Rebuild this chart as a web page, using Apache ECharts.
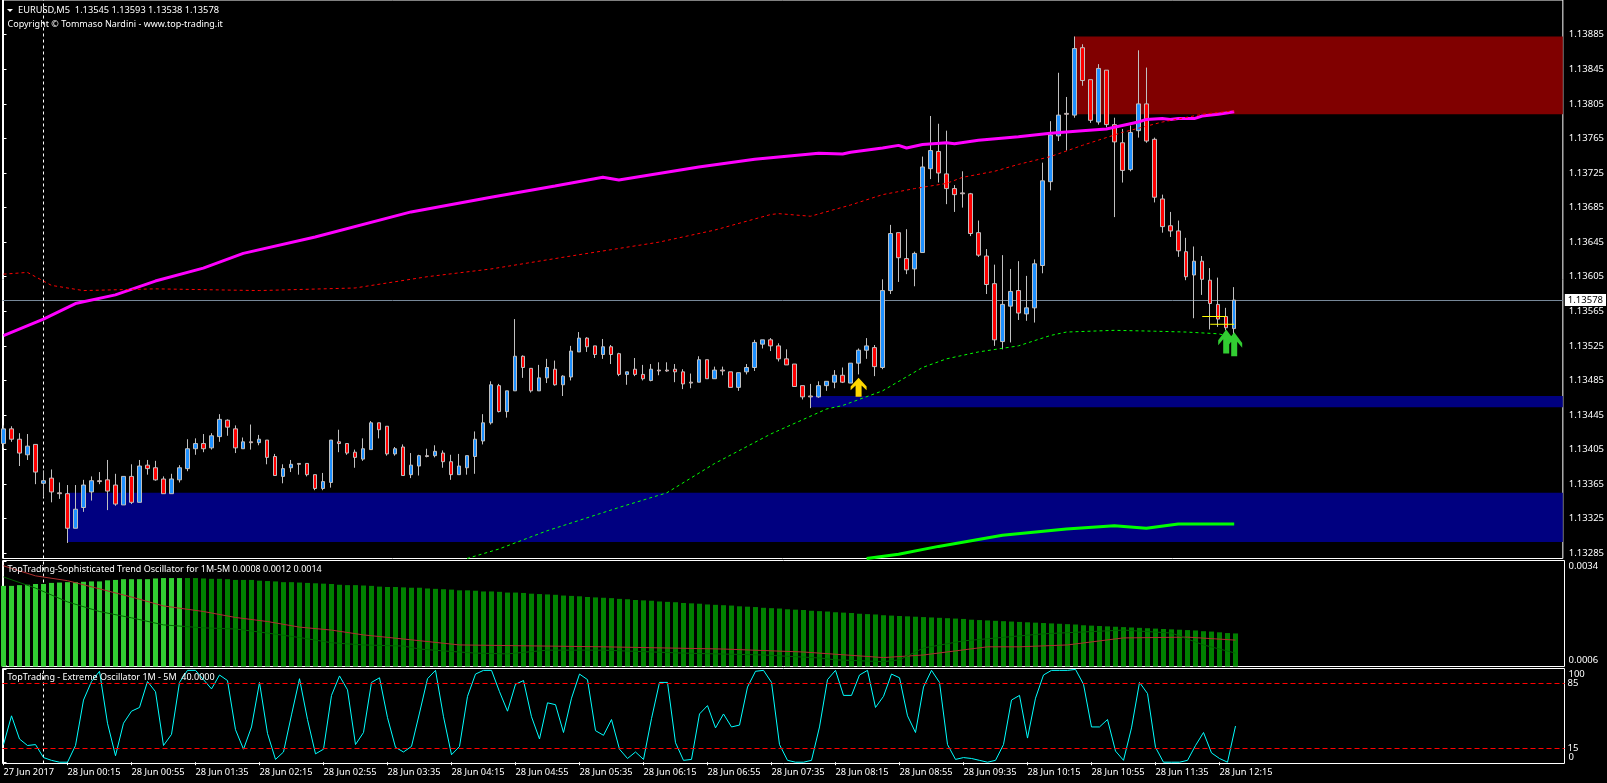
<!DOCTYPE html>
<html><head><meta charset="utf-8">
<style>html,body{margin:0;padding:0;background:#000}#c{width:1607px;height:783px}</style>
<script src="https://cdn.jsdelivr.net/npm/echarts@6/dist/echarts.min.js"></script>
</head><body><div id="c"></div>
<script>
// Prices are stored as points above 1.13000
const opens=[412,429,417,399,411,366,372,355,354,314,
338,356,369,370,364,341,374,344,387,384,
371,354,370,383,406,412,407,420,439,429,
406,414,413,416,397,374,384,389,389,376,
360,367,414,412,402,394,405,436,432,400,
408,376,386,398,398,401,391,376,384,397,
415,436,479,449,473,513,499,473,488,498,
480,489,518,534,525,515,524,516,492,498,
492,485,497,497,498,495,483,483,509,487,
497,495,477,495,500,527,532,525,510,504,
479,467,466,479,483,491,482,505,520,523,
500,589,656,626,614,633,730,750,724,707,
702,701,656,629,597,530,571,589,562,569,
618,715,768,794,792,870,833,784,844,781,
760,729,774,805,764,695,664,658,634,607,
623,601,573,559,545];
const closes=[429,417,401,409,379,369,356,354,314,336,
364,369,368,357,342,374,344,386,383,370,
354,371,384,406,412,406,421,440,431,407,
414,413,417,396,375,383,388,388,376,360,
368,416,412,401,396,406,436,428,400,406,
375,387,398,397,403,391,376,386,398,417,
436,480,449,473,513,500,473,488,500,480,
490,519,534,524,515,524,515,492,495,492,
487,498,496,496,495,481,482,509,487,497,
496,477,494,500,529,532,525,510,503,478,
466,466,479,484,491,483,505,520,525,501,
589,655,627,613,632,732,751,725,707,700,
701,655,630,596,532,573,588,563,569,620,
716,769,792,793,869,832,786,846,781,761,
728,772,805,762,697,663,658,635,605,623,
602,574,556,546,578];
const highs=[433,432,424,423,411,381,382,367,364,364,
370,374,379,393,377,374,388,393,393,392,
374,377,387,417,418,423,424,446,440,433,
419,434,422,416,400,388,393,389,389,376,
378,416,428,412,405,418,438,436,432,408,
411,401,399,406,410,404,399,400,398,426,
446,484,481,473,556,514,499,503,510,508,
491,525,541,535,525,533,526,517,495,511,
503,504,506,506,504,498,493,513,509,501,
501,495,494,504,532,532,534,528,521,504,
479,481,484,484,497,500,505,522,534,526,
602,665,656,660,634,744,791,782,774,711,
727,702,670,637,619,630,614,623,606,625,
737,785,841,813,883,874,833,851,844,789,
776,780,867,847,766,700,680,670,650,640,
629,615,604,569,593];
const lows=[407,414,386,393,365,350,344,348,297,314,
333,346,365,335,340,341,342,344,376,369,
354,354,367,380,399,402,405,414,421,401,
406,405,410,388,375,366,379,376,374,358,
358,361,402,399,384,392,405,418,398,398,
375,372,375,396,396,384,370,376,376,377,
411,434,448,442,473,488,471,473,482,479,
467,485,518,518,511,510,504,490,480,490,
485,484,491,495,483,475,476,483,487,487,
491,477,473,492,496,522,519,507,503,478,
463,453,465,473,476,482,482,492,510,490,
498,585,599,608,594,633,718,714,689,680,
685,652,628,585,525,521,529,555,554,552,
609,705,762,751,789,826,783,781,778,674,
714,727,766,760,691,656,651,628,601,557,
584,544,547,543,538];
// Moving averages, read at bar index: [bar, points]
const magentaMA=[[0,537],[5,556],[9,574],[14,584],[19,600],[25,615],[30,632],[39,651],[51,680],[61,697],[69,710],[75,720],[77,717],[87,732],[94,741],[102,748],[105,747],[106,749],[110,754],[112,757],[113,754],[115,758],[118,760],[119,759],[122,763],[127,767],[131,771],[135,774],[138,776],[140,780],[142,784],[143,787],[145,788],[146,787],[147,788],[149,788],[150,791],[152,793],[154,796]];
const redMA=[[0,608],[3,610],[6,595],[10,589],[19,591],[32,589],[44,592],[53,605],[61,614],[71,629],[82,645],[89,659],[96,677],[97,678],[101,675],[106,688],[110,700],[114,707],[118,713],[120,720],[124,727],[127,735],[131,744],[135,757],[140,772],[145,784],[150,793],[154,797]];
const greenMA=[[58,279],[62,290],[68,311],[77,338],[83,355],[89,389],[96,423],[103,452],[105,456],[110,473],[115,500],[118,510],[122,518],[127,525],[131,537],[133,541],[139,543],[144,542],[148,541],[152,539],[154,535]];
const limeMA=[[108,279],[112,284],[117,293],[125,306],[133,313],[139,317],[143,314],[147,319],[154,319]];
// Supply and demand zones: first bar, low, high (points)
const supplyZone=[134,793,883];
const demandUpper=[101,454,467];
const demandLower=[8,298,355];
const lastBarEnd=195.125;
const buyArrow=[[107,477]];
const greenArrows=[[153,530],[154,527]];
const yellowLevels=[[150,153,559],[151,154,550]];
const lastPrice=1.13578;
const separatorBar=5;
// Sophisticated Trend Oscillator, units of 0.00001
const trendBars=[273,273,275,276,278,278,281,282,283,283,284,285,285,288,289,291,291,291,291,293,294,294,294,294,294,293,292,292,291,289,289,289,287,286,285,283,283,282,281,280,279,278,276,275,275,274,273,271,270,270,
269,268,268,266,265,264,263,261,261,260,258,258,257,255,255,
254,252,251,250,249,247,246,245,243,242,241,240,238,237,235,234,233,231,230,229,227,226,225,223,222,
221,220,218,217,216,214,213,212,210,209,208,206,205,204,202,201,200,198,197,196,194,193,192,191,190,189,
188,187,186,185,184,182,181,180,179,178,177,176,175,174,173,172,171,170,169,167,166,165,164,163,162,161,
160,159,158,157,156,155,154,153,151,150,148,146,145];
const lastLightBar=22;
const trendRed=[[0,327],[4,300],[8,287],[12,265],[16,243],[20,219],[25,204],[29,188],[33,177],[37,162],[41,154],[45,141],[50,130],[57,114],[75,109],[90,103],[100,95],[110,80],[115,87],[119,98],[123,109],[127,109],[133,114],[140,133],[148,135],[154,127]];
const trendGreen=[[0,297],[4,267],[8,230],[12,204],[16,187],[20,168],[25,160],[29,157],[33,146],[37,134],[41,120],[45,114],[50,111],[52,103],[55,98],[59,92],[63,90],[68,100],[75,100],[85,92],[95,87],[102,79],[104,74],[110,69],[112,74],[115,106],[120,125],[130,144],[140,154],[146,146],[150,114],[154,92]];
// Extreme Oscillator
const extreme=[19,50,25,18,19,5,2,0,0,18,
67,87,98,42,7,42,55,59,87,76,
18,30,86,99,99,89,79,94,88,35,
14,38,86,31,3,11,51,90,46,9,
14,72,93,78,19,32,86,91,48,16,
11,17,53,90,99,49,8,17,71,95,
99,99,76,55,84,88,49,25,64,62,
32,69,95,89,34,29,46,14,4,11,
3,47,86,86,21,2,3,52,61,37,
52,38,40,81,98,99,86,19,2,0,
0,2,38,89,99,72,72,94,99,59,
71,95,91,50,32,81,99,86,19,3,
5,4,2,0,2,19,67,72,26,69,
94,99,99,99,100,84,38,38,46,12,
2,37,86,74,16,0,0,0,2,18,
32,10,4,0,39];
const extremeLevels=[85,15];
const priceTicks=[1.13285,1.13325,1.13365,1.13405,1.13445,1.13485,1.13525,1.13565,1.13605,1.13645,1.13685,1.13725,1.13765,1.13805,1.13845,1.13885];
const trendTicks=[0.0006,0.0034];
const extremeTicks=[0,100];
const timeLabels=['27 Jun 2017','28 Jun 00:15','28 Jun 00:55','28 Jun 01:35','28 Jun 02:15','28 Jun 02:55','28 Jun 03:35','28 Jun 04:15','28 Jun 04:55','28 Jun 05:35','28 Jun 06:15','28 Jun 06:55','28 Jun 07:35','28 Jun 08:15','28 Jun 08:55','28 Jun 09:35','28 Jun 10:15','28 Jun 10:55','28 Jun 11:35','28 Jun 12:15'];
const barsPerLabel=8;

const FONT='"Noto Sans"', FS=9.5, TFS=9;
const P=p=>1.13+p/1e5, T=v=>v/1e5;
const priceSeries=a=>a.map(d=>[d[0],P(d[1])]);
const trendSeries=a=>a.map(d=>[d[0],T(d[1])]);
const candles=opens.map((o,i)=>[i,P(o),P(closes[i]),P(lows[i]),P(highs[i])]);
const sep={z:1,silent:true,symbol:'none',animation:false,label:{show:false},lineStyle:{color:'#fff',type:[3,3],width:1},data:[{xAxis:separatorBar}]};
const xBase={type:'value',min:-0.125,max:lastBarEnd,splitLine:{show:false},axisLine:{show:false},axisTick:{show:false},axisLabel:{show:false}};
const yBase={type:'value',position:'right',scale:true,splitLine:{show:false},
  axisLine:{show:true,lineStyle:{color:'#fff'}},axisTick:{show:true,length:3,lineStyle:{color:'#fff'}}};
const labelStyle={color:'#fff',fontFamily:FONT,fontSize:FS};
const titleStyle={color:'#fff',fontFamily:FONT,fontSize:TFS,fontWeight:'normal'};
const zone=(z,c)=>[{xAxis:z[0],yAxis:P(z[2]),itemStyle:{color:c,opacity:1}},{xAxis:lastBarEnd,yAxis:P(z[1])}];
const ARROW='path://M8 0 L16 9 L16 13 L11 8 L11 20 L5 20 L5 8 L0 13 L0 9 Z';
const line=(name,data,color,width,type,xi)=>({name,type:'line',xAxisIndex:xi,yAxisIndex:xi,data,showSymbol:false,symbol:'none',silent:true,animation:false,lineStyle:{color,width,type:type||'solid'},z:4});
const dummy=(name,xi,ml)=>({name,type:'line',xAxisIndex:xi,yAxisIndex:xi,data:[],silent:true,z:1,markLine:ml});

const option={
  backgroundColor:'#000',animation:false,
  title:[
    {text:'EURUSD,M5  1.13545 1.13593 1.13538 1.13578',left:18,top:6,padding:0,textStyle:{...titleStyle,fontSize:9.25}},
    {text:'Copyright © Tommaso Nardini - www.top-trading.it',left:7.5,top:19.5,padding:0,textStyle:titleStyle},
    {text:'TopTrading-Sophisticated Trend Oscillator for 1M-5M 0.0008 0.0012 0.0014',left:7.5,top:565,padding:0,textStyle:titleStyle},
    {text:'TopTrading - Extreme Oscillator 1M - 5M  40.0000',left:7.5,top:673,padding:0,textStyle:titleStyle}
  ],
  graphic:[{type:'polygon',shape:{points:[[7,9],[13,9],[10,12]]},style:{fill:'#fff'},silent:true}],
  grid:[
    {left:2.5,top:-0.5,width:1562,height:559,show:true,borderColor:'#fff',borderWidth:1,backgroundColor:'transparent'},
    {left:2.5,top:560.5,width:1562,height:106,show:true,borderColor:'#fff',borderWidth:1,backgroundColor:'transparent'},
    {left:2.5,top:668.5,width:1562,height:95,show:true,borderColor:'#fff',borderWidth:1,backgroundColor:'transparent'}
  ],
  xAxis:[
    {...xBase,gridIndex:0},{...xBase,gridIndex:1},
    {...xBase,gridIndex:2,axisTick:{show:true,length:3,lineStyle:{color:'#fff'},customValues:timeLabels.map((_,i)=>i*barsPerLabel)},
      axisLabel:{show:true,...labelStyle,fontSize:9.25,align:'left',margin:4,customValues:timeLabels.map((_,i)=>i*barsPerLabel),formatter:v=>timeLabels[Math.round(v/barsPerLabel)]||''}}
  ],
  yAxis:[
    {...yBase,gridIndex:0,min:1.13279,max:1.139252,
      axisTick:{...yBase.axisTick,customValues:priceTicks},
      axisLabel:{...labelStyle,margin:6,customValues:priceTicks,formatter:v=>v.toFixed(5)}},
    {...yBase,gridIndex:1,min:0.00056,max:0.003413,
      axisTick:{...yBase.axisTick,customValues:trendTicks},
      axisLabel:{...labelStyle,margin:4,customValues:trendTicks,showMinLabel:true,showMaxLabel:true,formatter:v=>v.toFixed(4),verticalAlignMinLabel:'bottom',verticalAlignMaxLabel:'top'}},
    {...yBase,gridIndex:2,min:-1.4,max:101,
      axisTick:{...yBase.axisTick,customValues:extremeTicks},
      axisLabel:{...labelStyle,margin:4,customValues:extremeTicks,showMinLabel:true,showMaxLabel:true,formatter:v=>String(v),verticalAlignMinLabel:'bottom',verticalAlignMaxLabel:'top'}}
  ],
  series:[
    dummy('last price',0,{z:1,precision:5,silent:true,symbol:'none',animation:false,lineStyle:{color:'#778899',type:'solid',width:1},
        label:{show:true,position:'end',distance:2,formatter:lastPrice.toFixed(5),color:'#000',backgroundColor:'#fff',padding:[1,3],fontFamily:FONT,fontSize:FS},
        data:[{yAxis:lastPrice}]}),
    dummy('separator',0,sep),
    {name:'EURUSD',type:'candlestick',xAxisIndex:0,yAxisIndex:0,data:candles,barWidth:4,z:3,silent:true,animation:false,
      itemStyle:{color:'#1e90ff',color0:'#ff0000',borderColor:'#c0c0c0',borderColor0:'#c0c0c0',borderWidth:1},
      markArea:{z:0,silent:true,animation:false,data:[zone(supplyZone,'#800000'),zone(demandUpper,'#000080'),zone(demandLower,'#000080')]}
    },
    line('MA magenta',priceSeries(magentaMA),'#ff00ff',3,null,0),
    line('MA red',priceSeries(redMA),'#ff0000',1,[3,3],0),
    line('MA green',priceSeries(greenMA),'#00ff00',1,[3,3],0),
    line('MA lime',priceSeries(limeMA),'#00ff00',3,null,0),
    ...yellowLevels.map((l,i)=>line('Level '+i,[[l[0],P(l[2])],[l[1],P(l[2])]],'#ffff00',1,null,0)),
    {name:'Buy',type:'scatter',xAxisIndex:0,yAxisIndex:0,data:priceSeries(buyArrow),symbol:ARROW,symbolSize:[16,19],silent:true,animation:false,itemStyle:{color:'#ffd700',opacity:1},z:5},
    {name:'Signal',type:'scatter',xAxisIndex:0,yAxisIndex:0,data:priceSeries(greenArrows),symbol:ARROW,symbolSize:[16,24],silent:true,animation:false,itemStyle:{color:'#32cd32',opacity:1},z:5},
    dummy('separator 2',1,sep),
    {name:'Trend',type:'bar',xAxisIndex:1,yAxisIndex:1,data:trendBars.map((v,i)=>[i,T(v)]),barWidth:5,silent:true,animation:false,
      itemStyle:{color:p=>p.data[0]<=lastLightBar?'#32cd32':'#008000'},z:2},
    line('Trend red',trendSeries(trendRed),'#b03030',1,null,1),
    line('Trend green',trendSeries(trendGreen),'#006400',1,null,1),
    {...line('Extreme',extreme.map((v,i)=>[i,v]),'#00ffff',1,null,2),
      markLine:{precision:0,silent:true,symbol:'none',animation:false,
        label:{show:true,position:'end',distance:3,formatter:'{c}',color:'#fff',fontFamily:FONT,fontSize:FS},
        lineStyle:{color:'#ff0000',type:[5,3],width:1},data:extremeLevels.map(v=>({yAxis:v}))}},
    dummy('separator 3',2,sep)
  ]
};
const chart=echarts.init(document.getElementById('c'));
chart.setOption(option);
</script></body></html>
